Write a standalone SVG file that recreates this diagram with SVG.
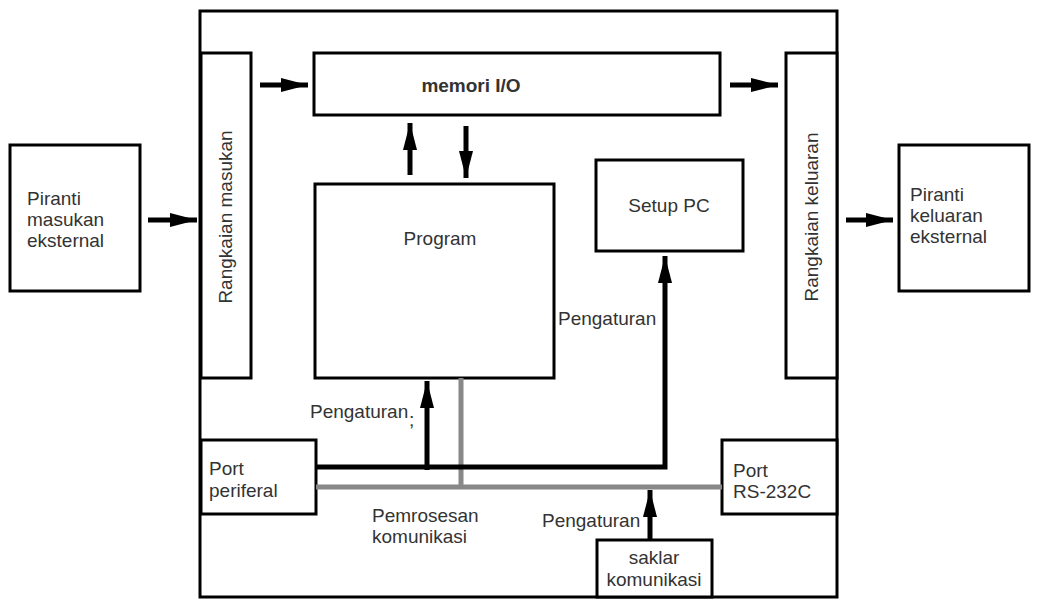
<svg xmlns="http://www.w3.org/2000/svg" width="1040" height="610" viewBox="0 0 1040 610">
<style>
.b{fill:#fff;stroke:#000;stroke-width:3}
text{font-family:"Liberation Sans",Arial,sans-serif;font-size:19px;fill:#333}
.s{stroke:#000;stroke-width:5;fill:none}
</style>
<defs>
<marker id="a" markerUnits="userSpaceOnUse" markerWidth="28" markerHeight="16" refX="27" refY="8" orient="auto"><path d="M0,1 L27,8 L0,15 Z" fill="#000"/></marker>
</defs>
<rect width="1040" height="610" fill="#fff"/>
<g id="outer"><rect class="b" x="200" y="11" width="637" height="586"/></g>
<g id="in-dev"><rect class="b" x="10" y="145" width="130" height="146"/><text x="27" y="205">Piranti</text><text x="27" y="226">masukan</text><text x="27" y="247">eksternal</text></g>
<g id="in-circ"><rect class="b" x="201" y="53" width="50" height="325"/><text transform="translate(232,217) rotate(-90)" text-anchor="middle">Rangkaian masukan</text></g>
<g id="mem"><rect class="b" x="314" y="53" width="406" height="62"/><text x="471" y="92" text-anchor="middle" font-weight="bold">memori I/O</text></g>
<g id="prog"><rect class="b" x="315" y="184" width="239" height="194"/><text x="440" y="245" text-anchor="middle" font-size="20">Program</text></g>
<g id="setup"><rect class="b" x="596" y="160" width="147" height="91"/><text x="669" y="212" text-anchor="middle">Setup PC</text></g>
<g id="out-circ"><rect class="b" x="786" y="53" width="51" height="325"/><text transform="translate(818,217) rotate(-90)" text-anchor="middle">Rangkaian keluaran</text></g>
<g id="out-dev"><rect class="b" x="899" y="145" width="130" height="146"/><text x="910" y="201">Piranti</text><text x="910" y="222">keluaran</text><text x="910" y="243">eksternal</text></g>
<g id="port-p"><rect class="b" x="201" y="440" width="115" height="74"/><text x="209" y="475">Port</text><text x="209" y="497">periferal</text></g>
<g id="port-rs"><rect class="b" x="722" y="440" width="115" height="74"/><text x="733" y="477">Port</text><text x="733" y="498">RS-232C</text></g>
<g id="saklar"><rect class="b" x="597" y="540" width="115" height="57"/><text x="654" y="564" text-anchor="middle">saklar</text><text x="654" y="586" text-anchor="middle">komunikasi</text></g>
<g id="connectors">
<path d="M316,487 H722 M461,378 V487" stroke="#888" stroke-width="5" fill="none"/>
<path class="s" d="M148,220 H197" marker-end="url(#a)"/>
<path class="s" d="M260,85 H308" marker-end="url(#a)"/>
<path class="s" d="M730,85 H778" marker-end="url(#a)"/>
<path class="s" d="M846,220 H893" marker-end="url(#a)"/>
<path class="s" d="M410,175 V123" marker-end="url(#a)"/>
<path class="s" d="M466,126 V178" marker-end="url(#a)"/>
<path class="s" stroke-width="6" d="M316,467 H665 V256" marker-end="url(#a)"/>
<path class="s" stroke-width="6" d="M427,470 V381" marker-end="url(#a)"/>
<path class="s" d="M650,540 V490" marker-end="url(#a)"/>
</g>
<text x="310" y="418">Pengaturan</text>
<text x="409" y="426" font-size="7">;</text>
<text x="558" y="325">Pengaturan</text>
<text x="542" y="527">Pengaturan</text>
<text x="372" y="522">Pemrosesan</text>
<text x="372" y="543">komunikasi</text>
</svg>
